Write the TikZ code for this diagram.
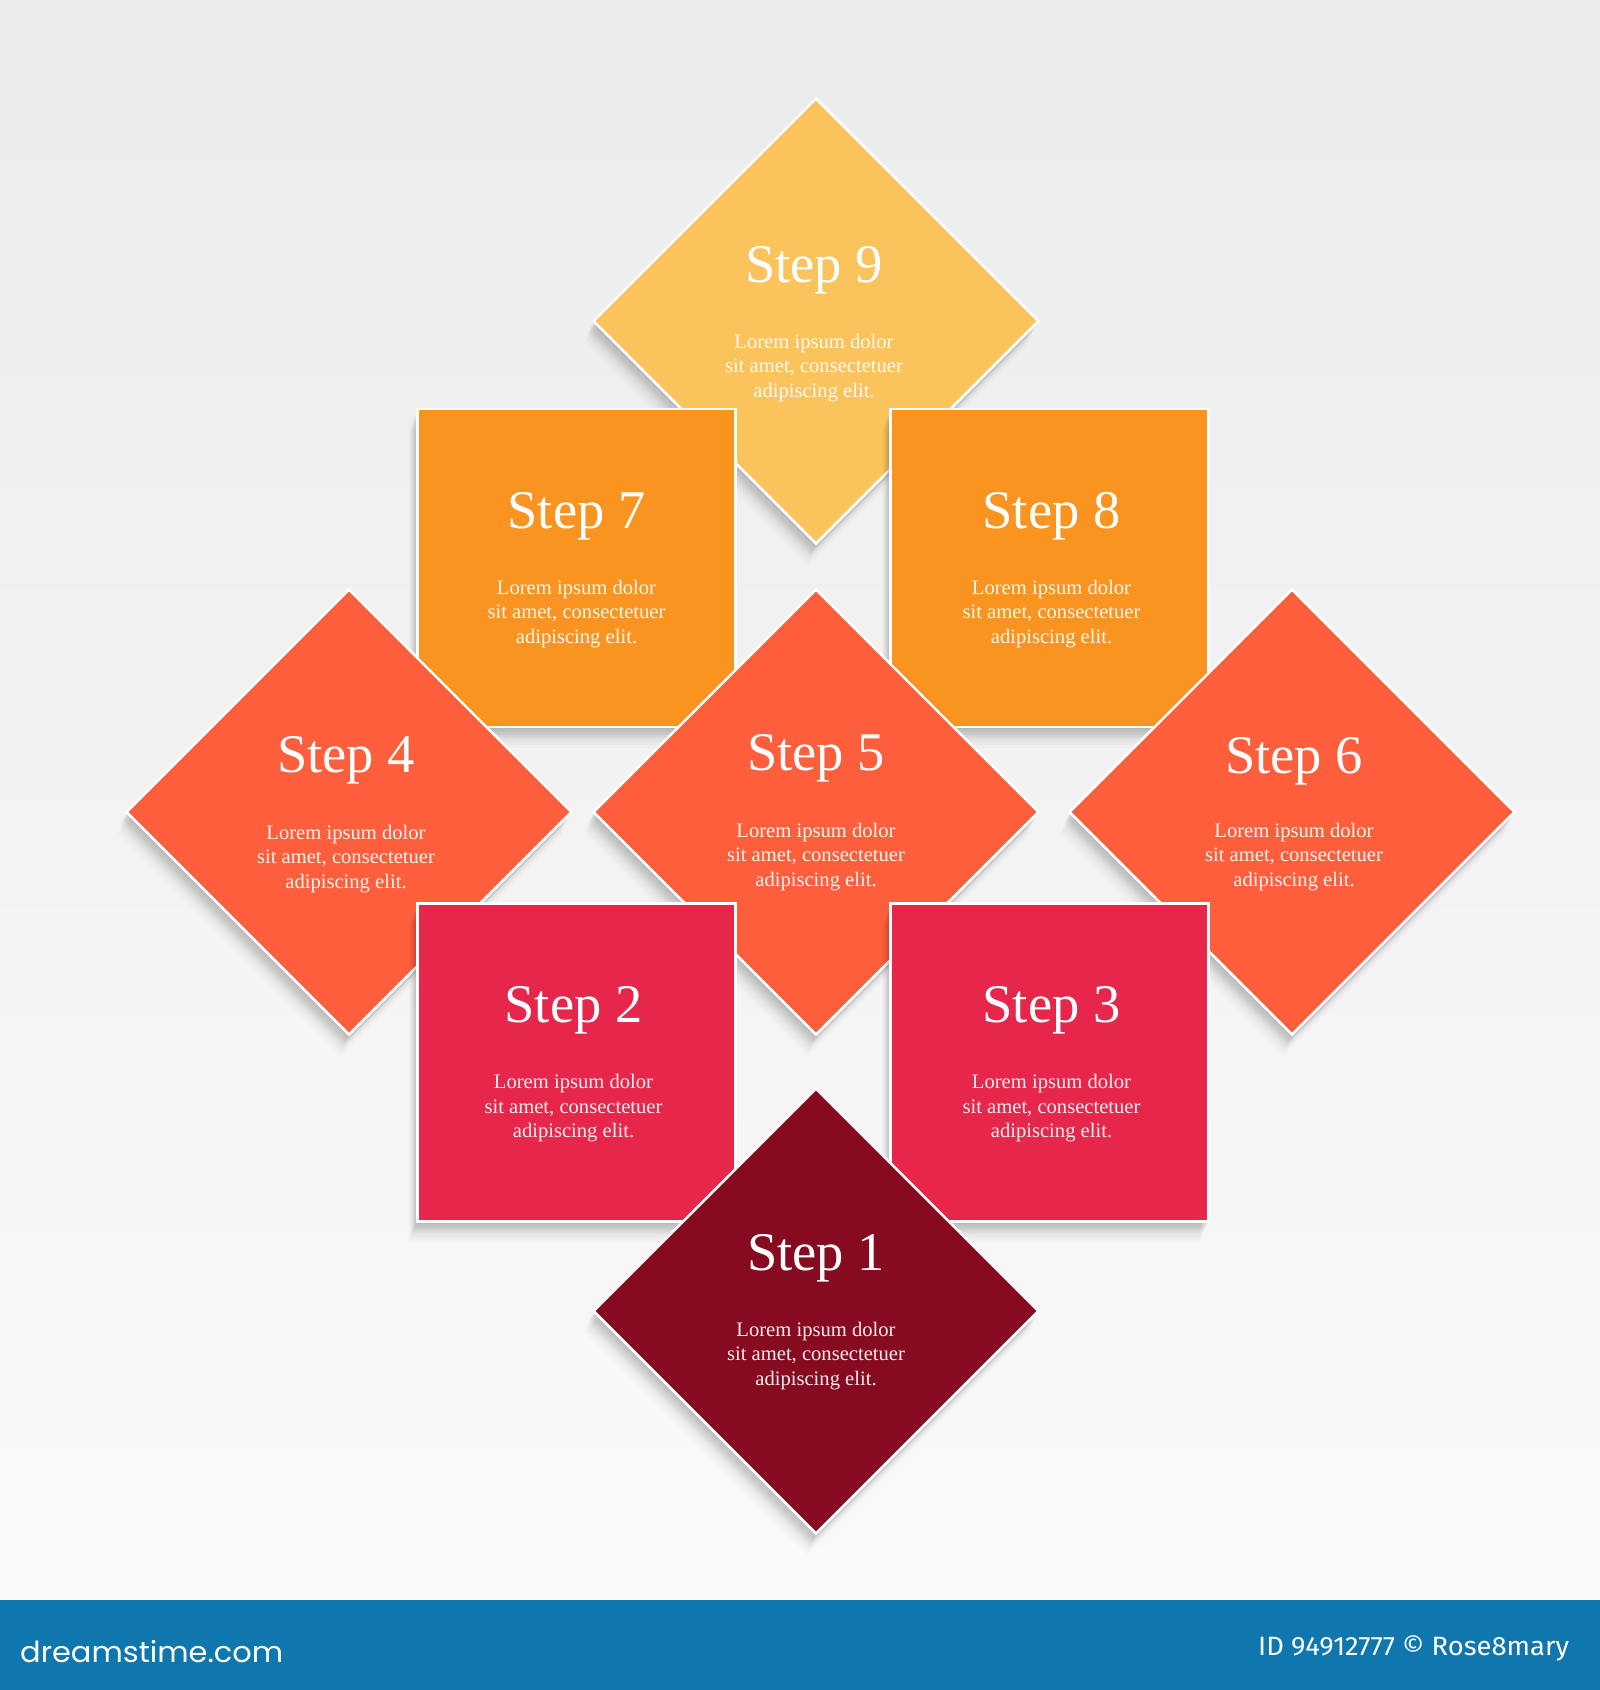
\documentclass[tikz,border=0pt]{standalone}
\usepackage{fontspec}
\setmainfont{Liberation Serif}
\newfontfamily\logofont{Poppins}
\newfontfamily\idfont{Fira Sans}
\usetikzlibrary{shapes.geometric,shadows,calc}
\definecolor{bgtop}{HTML}{EBEBEB}
\definecolor{bgbot}{HTML}{FAFAFA}
\definecolor{cnine}{HTML}{FBC35B}
\definecolor{corange}{HTML}{F8941F}
\definecolor{ccoral}{HTML}{FD5E3C}
\definecolor{ccrimson}{HTML}{E6264A}
\definecolor{cwine}{HTML}{870B20}
\definecolor{barblue}{HTML}{1076AE}
\newcommand\loremtext{\begin{tabular}[t]{@{}c@{}}Lorem ipsum dolor\\sit amet, consectetuer\\adipiscing elit.\end{tabular}}
\tikzset{
  softshadow/.style={
    general shadow={draw=none,fill=black,opacity=.035,shadow xshift=-1pt,shadow yshift=-2pt},
    general shadow={draw=none,fill=black,opacity=.035,shadow xshift=-2pt,shadow yshift=-4pt},
    general shadow={draw=none,fill=black,opacity=.035,shadow xshift=-3pt,shadow yshift=-6pt},
    general shadow={draw=none,fill=black,opacity=.035,shadow xshift=-4pt,shadow yshift=-8pt},
    general shadow={draw=none,fill=black,opacity=.03,shadow xshift=-5pt,shadow yshift=-10pt},
    general shadow={draw=none,fill=black,opacity=.03,shadow xshift=-6pt,shadow yshift=-12pt},
    general shadow={draw=none,fill=black,opacity=.025,shadow xshift=-7pt,shadow yshift=-15pt},
    general shadow={draw=none,fill=black,opacity=.02,shadow xshift=-8pt,shadow yshift=-18pt},
    general shadow={draw=none,fill=black,opacity=.015,shadow xshift=-9pt,shadow yshift=-21pt},
  },
  diashape/.style={diamond, draw=white, line width=2.5pt, minimum width=446pt,
    minimum height=446pt, inner sep=0pt, softshadow},
  sqshape/.style={rectangle, draw=white, line width=2.5pt, minimum size=318pt,
    inner sep=0pt, softshadow},
  steptitle/.style={anchor=base, text=white, inner sep=0pt,
    font=\fontsize{54.5}{60}\selectfont},
  stepbody/.style={anchor=base, text=white, text opacity=.92, inner sep=0pt,
    font=\fontsize{20.6}{24.5}\selectfont},
}
\begin{document}
\begin{tikzpicture}[x=1pt,y=-1pt]
\useasboundingbox (0,0) rectangle (1600,1690);
\shade[top color=bgtop, bottom color=bgbot] (0,0) rectangle (1600,1600);
\fill[barblue] (0,1600) rectangle (1600,1690);
\node[anchor=base west, text=white, inner sep=0pt, font=\logofont\fontsize{29}{32}\selectfont]
  (logo) at (20,1662) {\resizebox{263pt}{\height}{dreamstime.com}};
\node[anchor=base west, text=white, inner sep=0pt, font=\idfont\fontsize{26.5}{30}\selectfont]
  (imgid) at (1258,1655) {\resizebox{311pt}{\height}{ID 94912777 \textcopyright{} Rose8mary}};

% Step 9
\node[diashape, fill=cnine] (s9) at (816,321) {};
\node[steptitle] (t9) at ($(s9)+(-2,-39)$) {Step 9};
\node[stepbody] (b9) at ($(s9)+(-2,27)$) {\loremtext};

% Step 7, 8
\node[sqshape, fill=corange] (s7) at (576.5,568) {};
\node[steptitle] (t7) at ($(s7)+(0,-40)$) {Step 7};
\node[stepbody] (b7) at ($(s7)+(0,26)$) {\loremtext};
\node[sqshape, fill=corange] (s8) at (1049.5,568) {};
\node[steptitle] (t8) at ($(s8)+(2,-40)$) {Step 8};
\node[stepbody] (b8) at ($(s8)+(2,26)$) {\loremtext};

% Step 4, 5, 6
\node[diashape, fill=ccoral] (s4) at (349,812) {};
\node[steptitle] (t4) at ($(s4)+(-3,-40)$) {Step 4};
\node[stepbody] (b4) at ($(s4)+(-3,27)$) {\loremtext};
\node[diashape, fill=ccoral] (s5) at (816,812) {};
\node[steptitle] (t5) at ($(s5)+(0,-42)$) {Step 5};
\node[stepbody] (b5) at ($(s5)+(0,25)$) {\loremtext};
\node[diashape, fill=ccoral] (s6) at (1292,812) {};
\node[steptitle] (t6) at ($(s6)+(2,-39)$) {Step 6};
\node[stepbody] (b6) at ($(s6)+(2,25)$) {\loremtext};

% Step 2, 3
\node[sqshape, fill=ccrimson] (s2) at (576.5,1062.5) {};
\node[steptitle] (t2) at ($(s2)+(-3,-40)$) {Step 2};
\node[stepbody] (b2) at ($(s2)+(-3,26)$) {\loremtext};
\node[sqshape, fill=ccrimson] (s3) at (1049.5,1062.5) {};
\node[steptitle] (t3) at ($(s3)+(2,-40)$) {Step 3};
\node[stepbody] (b3) at ($(s3)+(2,26)$) {\loremtext};

% Step 1
\node[diashape, fill=cwine] (s1) at (816,1311) {};
\node[steptitle] (t1) at ($(s1)+(0,-41)$) {Step 1};
\node[stepbody] (b1) at ($(s1)+(0,25)$) {\loremtext};
\end{tikzpicture}
\end{document}
